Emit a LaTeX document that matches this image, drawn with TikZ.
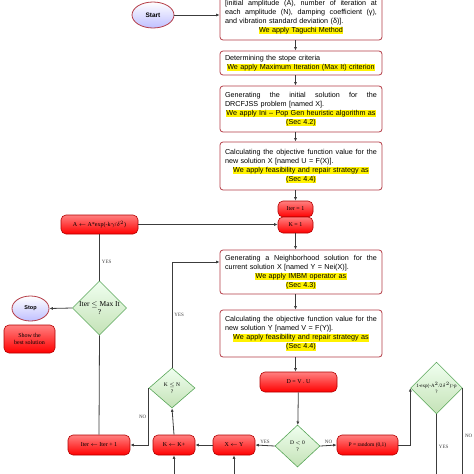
\documentclass[tikz,border=0pt]{standalone}
\usepackage{fontspec}
\setmainfont{Liberation Serif}
\newfontfamily\arialf{Liberation Sans}
\usetikzlibrary{shapes.geometric,arrows.meta}
\definecolor{borde}{RGB}{180,60,70}
\definecolor{verde}{RGB}{196,226,182}
\definecolor{lineagris}{RGB}{60,60,60}
\newcommand{\hl}[1]{{\setlength{\fboxsep}{0.4pt}\colorbox{yellow}{#1}}}
\newcommand{\jl}[1]{{\spaceskip=0.278em plus 1fil\makebox[152pt][s]{#1}}}
\newcommand{\cl}[1]{\makebox[152pt]{#1}}
\begin{document}
\begin{tikzpicture}[x=1pt, y=-1pt,
    proc/.style={draw=borde, line width=0.8pt, rounded corners=3pt, fill=white, minimum width=162pt,
      text width=152pt, inner xsep=5pt, inner ysep=0pt, align=left, font=\arialf\fontsize{7.2}{9}\selectfont},
    rojo/.style={draw=red!70!black, line width=0.6pt, rounded corners=5pt, top color=red!50, bottom color=red,
      inner sep=0pt, align=center, font=\fontsize{6}{7}\selectfont},
    cond/.style={diamond, draw=green!30!gray, line width=0.6pt, top color=green!6, bottom color=verde,
      inner sep=0pt, align=center, font=\fontsize{5.5}{6.5}\selectfont},
    term/.style={ellipse, draw=borde, line width=0.8pt, top color=white, bottom color=blue!25, inner sep=0pt,
      font=\arialf\bfseries\fontsize{6.5}{7}\selectfont},
    flecha/.style={-{Latex[length=3.5pt,width=3pt]}, draw=lineagris, line width=0.8pt},
    linea/.style={draw=lineagris, line width=0.8pt},
    etq/.style={font=\fontsize{5}{6}\selectfont, text=lineagris, inner sep=2pt}
  ]
  \useasboundingbox (0,0) rectangle (474,474);
  \clip (0,0) rectangle (474,474);
  % main column
  \node[term, minimum width=42pt, minimum height=26pt] (start) at (153,15) {Start};
  \node[proc, minimum height=46pt] (b1) at (301,17) {\jl{[initial amplitude (A), number of iteration at}\\
    \jl{each amplitude (N), damping coefficient (γ),}\\ and vibration standard deviation (δ)].\\
    \cl{\hl{We apply Taguchi Method}}};
  \node[proc, minimum height=24pt] (b2) at (301,63) {Determining the stope criteria\\
    \cl{\hl{We apply Maximum Iteration (Max It) criterion}}};
  \node[proc, minimum height=46pt] (b3) at (301,109) {\jl{Generating the initial solution for the}\\
    DRCFJSS problem [named X].\\ \cl{\hl{We apply Ini – Pop Gen heuristic algorithm as}}\\ \cl{\hl{(Sec 4.2)}}};
  \node[proc, minimum height=48pt] (b4) at (301,166) {\jl{Calculating the objective function value for the}\\
    new solution X [named U = F(X)].\\ \cl{\hl{We apply feasibility and repair strategy as}}\\ \cl{\hl{(Sec 4.4)}}};
  \node[rojo, minimum width=35pt, minimum height=16pt] (it1) at (295.5,209) {Iter = 1};
  \node[rojo, minimum width=35pt, minimum height=16pt] (k1) at (295.5,225) {K = 1};
  \node[proc, minimum height=44pt] (b5) at (301,272) {\jl{Generating a Neighborhood solution for the}\\
    current solution X [named Y = Nei(X)].\\ \cl{\hl{We apply IMBM operator as}}\\ \cl{\hl{(Sec 4.3)}}};
  \node[proc, minimum height=47pt] (b6) at (301,333.5) {\jl{Calculating the objective function value for the}\\
    new solution Y [named V = F(Y)].\\ \cl{\hl{We apply feasibility and repair strategy as}}\\ \cl{\hl{(Sec 4.4)}}};
  \node[rojo, minimum width=77pt, minimum height=20pt] (dvu) at (298.5,382) {D = V . U};
  \node[cond, minimum width=45pt, minimum height=42pt] (dneg) at (297.5,446) {D $<$ 0\\?};
  \node[rojo, minimum width=61pt, minimum height=20pt, font=\fontsize{5.5}{6.5}\selectfont] (prand) at (367.5,445) {P = random (0,1)};
  \node[cond, minimum width=47pt, minimum height=41pt, font=\fontsize{5}{6}\selectfont] (acep) at (436.5,388) {1-exp(-A$^2$/2$\delta^2$)>p\\?};
  % bottom row and left side
  \node[rojo, minimum width=42pt, minimum height=20pt] (xy) at (234,445) {X $\leftarrow$ Y};
  \node[rojo, minimum width=42pt, minimum height=20pt] (kk) at (174,445) {K $\leftarrow$ K+};
  \node[cond, minimum width=46pt, minimum height=40pt] (kn) at (172,388) {K $\leq$ N\\?};
  \node[rojo, minimum width=62pt, minimum height=20pt] (itit) at (99,445) {Iter $\leftarrow$ Iter + 1};
  \node[cond, minimum width=47pt, minimum height=40pt, font=\fontsize{7.5}{8.5}\selectfont] (imax) at (99.5,308) {Iter $\leq$ Max It\\?};
  \node[rojo, minimum width=77pt, minimum height=19pt] (amp) at (99.5,224.5) {A $\leftarrow$ A*exp(-k$\gamma$/$\delta^2$)};
  \node[term, minimum width=37pt, minimum height=25pt, font=\arialf\bfseries\fontsize{5.5}{6}\selectfont] (stop) at (30.5,308.5) {Stop};
  \node[rojo, minimum width=51pt, minimum height=28pt] (best) at (29.5,339) {Show the\\best solution};
  % connectors
  \draw[flecha] (start.east) -- (start.east -| b1.west);
  \draw[flecha] (b1.south -| it1) -- (b2.north -| it1);
  \draw[flecha] (b2.south -| it1) -- (b3.north -| it1);
  \draw[flecha] (b3.south -| it1) -- (b4.north -| it1);
  \draw[flecha] (b4.south -| it1) -- (it1.north);
  \draw[flecha] (k1.south) -- (b5.north -| k1);
  \draw[flecha] (b5.south -| k1) -- (b6.north -| k1);
  \draw[flecha] (b6.south -| k1) -- (dvu.north -| k1);
  \draw[flecha] (dvu) -- (dneg);
  \draw[flecha] (dneg.west) -- node[etq, above]{YES} (xy.east);
  \draw[flecha] (dneg.east) -- node[etq, above]{NO} (prand.west);
  \draw[flecha] (prand.east) -| (acep.west);
  \draw[flecha] (acep.south) -- node[etq, right, pos=0.4]{YES} ++(0,82) -| (xy.south);
  \draw[flecha] (acep.east) -- node[etq, right, pos=0.48]{NO} ++(0,100) -| (kk.south);
  \draw[flecha] (xy.west) -- (kk.east);
  \draw[flecha] (kk.north) -- (kn.south);
  \draw[flecha] (kn.west) |- node[etq, left, pos=0.25]{NO} (itit.east);
  \draw[flecha] (kn.north) |- node[etq, right, pos=0.25]{YES} ([yshift=10pt]b5.west);
  \draw[linea] (itit.north) -- (imax.south);
  \draw[flecha] (imax.west) -- (stop.east);
  \draw[linea] (imax.north) -- node[etq, right, pos=0.41]{YES} (amp.south);
  \draw[flecha] (amp.east) -- (amp.east -| k1.west);
\end{tikzpicture}
\end{document}
